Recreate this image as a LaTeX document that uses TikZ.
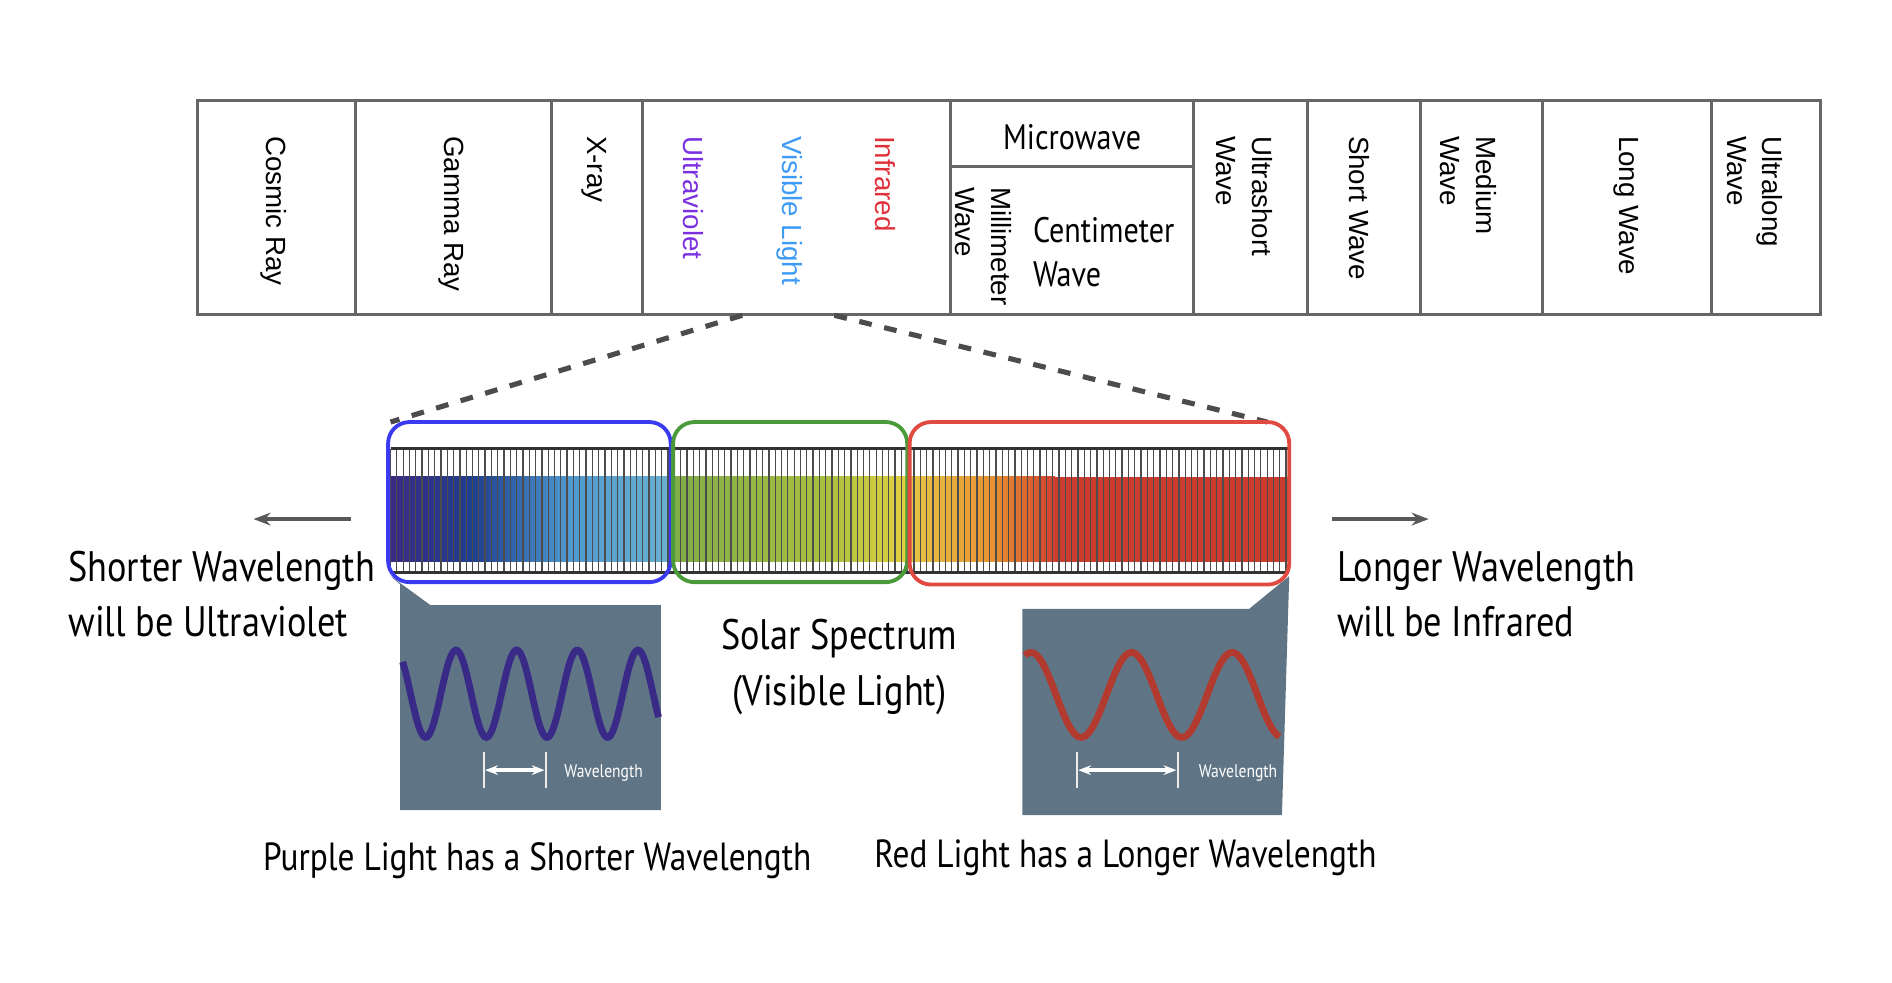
\documentclass[tikz,border=0pt]{standalone}
\usepackage{fontspec}
\setmainfont{PT Sans}[FakeStretch=0.85]
\newfontfamily\bandfont{Liberation Sans}
\usetikzlibrary{arrows.meta}

\definecolor{panelgray}{HTML}{5F7586}
\definecolor{wavepurple}{HTML}{3A2A88}
\definecolor{wavered}{HTML}{B33A2E}
\definecolor{uvpurple}{HTML}{7A2FE0}
\definecolor{visblue}{HTML}{3D9BF5}
\definecolor{irred}{HTML}{E0303A}
\definecolor{zoneblue}{HTML}{3A3AF0}
\definecolor{zonegreen}{HTML}{4A9A3A}
\definecolor{zonered}{HTML}{E04A40}
\definecolor{spA}{RGB}{59,43,133}
\definecolor{spB}{RGB}{31,63,143}
\definecolor{spC}{RGB}{79,154,208}
\definecolor{spD}{RGB}{106,176,208}
\definecolor{spE}{RGB}{128,172,72}
\definecolor{spF}{RGB}{168,192,64}
\definecolor{spG}{RGB}{226,208,64}
\definecolor{spH}{RGB}{230,200,70}
\definecolor{spI}{RGB}{232,144,48}
\definecolor{spJ}{RGB}{208,64,48}
\definecolor{spK}{RGB}{204,60,46}

\tikzset{
  band/.style={rotate=-90, anchor=west, align=left, inner sep=1pt, font=\bandfont\fontsize{6.5}{8.4}\selectfont},
  cond/.style={font=\fontsize{8.3}{10.3}\selectfont, align=center},
  big/.style={font=\fontsize{10}{13}\selectfont, align=left},
  caption/.style={font=\fontsize{9.2}{11}\selectfont},
  zone/.style={line width=0.9pt, rounded corners=5pt},
  tiny/.style={text=white, font=\fontsize{4.3}{5}\selectfont}
}

\begin{document}
\begin{tikzpicture}[x=0.01cm, y=-0.01cm]
  \useasboundingbox (0,0) rectangle (1560,810);

  % band table
  \draw[gray!80!black, line width=0.7pt] (163,83) rectangle (1501,259);
  \foreach \xx in {293,455,530,784,984,1078,1171,1272,1411}
    \draw[gray!80!black, line width=0.7pt] (\xx,83) -- (\xx,259);
  \draw[gray!80!black, line width=0.7pt] (784,137) -- (984,137);

  \node[band] (cosmic) at (226,108) {Cosmic Ray};
  \node[band] (gamma) at (372,108) {Gamma Ray};
  \node[band] (xray) at (490,108) {X-ray};
  \node[band, text=uvpurple] (uv) at (572,108) {Ultraviolet};
  \node[band, text=visblue] (vis) at (651,108) {Visible Light};
  \node[band, text=irred] (ir) at (730,108) {Infrared};
  \node[cond] (micro) at (884,113) {Microwave};
  \node[band] (milli) at (811,150) {Millimeter\\Wave};
  \node[cond, align=left] (centi) at (910,208) {Centimeter\\Wave};
  \node[band] (ushort) at (1026,108) {Ultrashort\\Wave};
  \node[band] (short) at (1121,108) {Short Wave};
  \node[band] (medium) at (1211,108) {Medium\\Wave};
  \node[band] (long) at (1341,108) {Long Wave};
  \node[band] (ulong) at (1447,108) {Ultralong\\Wave};

  % zoom lines
  \coordinate (visL) at (612,260);
  \coordinate (visR) at (688,260);
  \coordinate (barL) at (322,348);
  \coordinate (barR) at (1045,348);
  \draw[gray!60!black, dashed, line width=1.2pt] (visL) -- (barL);
  \draw[gray!60!black, dashed, line width=1.2pt] (visR) -- (barR);

  % spectrum bar
  \shade[left color=spA, right color=spB] (322,393) rectangle (390,463);
  \shade[left color=spB, right color=spC] (390,393) rectangle (470,463);
  \shade[left color=spC, right color=spD] (470,393) rectangle (553,463);
  \shade[left color=spE, right color=spF] (553,393) rectangle (680,463);
  \shade[left color=spF, right color=spG] (680,393) rectangle (748,463);
  \shade[left color=spH, right color=spI] (748,393) rectangle (820,463);
  \shade[left color=spI, right color=spJ] (820,393) rectangle (870,463);
  \fill[spK] (870,393) rectangle (1063,463);
  \foreach \i in {0,...,142}
    \draw[black!70, line width=0.3pt] ({322+\i*5.2},370) -- ({322+\i*5.2},472);
  \draw[black!80, line width=0.8pt] (322,370) -- (1063,370);
  \draw[black!80, line width=0.8pt] (322,472) -- (1063,472);

  \draw[zone, zoneblue] (320,348) rectangle (553,480);
  \draw[zone, zonegreen] (555,348) rectangle (748,480);
  \draw[zone, zonered] (750,348) rectangle (1063,482);

  % direction arrows
  \coordinate (la1) at (289,428);
  \coordinate (la2) at (209,428);
  \coordinate (ra1) at (1098,428);
  \coordinate (ra2) at (1178,428);
  \draw[gray!70!black, line width=0.9pt, -{Stealth[length=4pt]}] (la1) -- (la2);
  \draw[gray!70!black, line width=0.9pt, -{Stealth[length=4pt]}] (ra1) -- (ra2);

  \node[big, anchor=west] (shorter) at (44,490) {Shorter Wavelength\\will be Ultraviolet};
  \node[big, anchor=west] (longer) at (1090,490) {Longer Wavelength\\will be Infrared};
  \node[big, align=center] (solar) at (692,550) {Solar Spectrum\\(Visible Light)};

  % wave panels
  \fill[panelgray] (322,475) -- (355,499) -- (545,499) -- (545,668) -- (330,668) -- (330,482) -- cycle;
  \fill[panelgray] (843,502) -- (1030,502) -- (1063,475) -- (1057,672) -- (843,672) -- cycle;
  \draw[wavepurple, line width=1.6pt] plot[domain=332:543, samples=160] (\x, {572-36*cos(7.2*(\x-376))});
  \draw[wavered, line width=1.6pt] plot[domain=845:1055, samples=160] (\x, {573-35*cos(4.337*(\x-933))});

  \draw[white!85!gray, line width=0.5pt] (399,620) -- (399,650) (450,620) -- (450,650);
  \draw[white, line width=1pt, {Stealth[length=3pt]}-{Stealth[length=3pt]}] (400,635) -- (449,635);
  \node[tiny, anchor=west] (wlL) at (453,637) {Wavelength};
  \draw[white!85!gray, line width=0.5pt] (888,620) -- (888,650) (971,620) -- (971,650);
  \draw[white, line width=1pt, {Stealth[length=3pt]}-{Stealth[length=3pt]}] (889,635) -- (970,635);
  \node[tiny, anchor=west] (wlR) at (976,637) {Wavelength};

  \node[caption] (purplecap) at (443,710) {Purple Light has a Shorter Wavelength};
  \node[caption] (redcap) at (928,707) {Red Light has a Longer Wavelength};
\end{tikzpicture}
\end{document}
